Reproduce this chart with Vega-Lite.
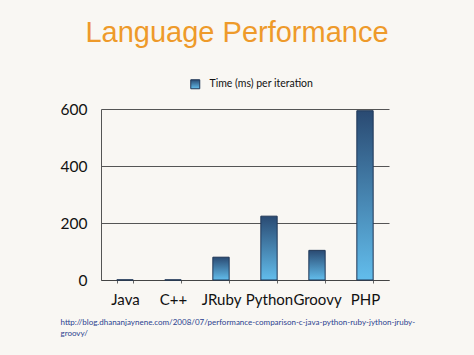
{
  "$schema": "https://vega.github.io/schema/vega-lite/v6.json",
  "autosize": "none",
  "width": 288,
  "height": 171,
  "padding": {"left": 101, "top": 109, "right": 85, "bottom": 75},
  "background": "#f9f7f3",
  "title": {
    "text": "Language Performance",
    "fontSize": 29,
    "font": "Liberation Sans",
    "fontWeight": "normal",
    "color": "#EE9A2A",
    "anchor": "middle",
    "dx": -8,
    "offset": 31
  },
  "data": {
    "values": [
      {"language": "Java", "time": 0.5, "series": "Time (ms) per iteration"},
      {"language": "C++", "time": 0.4, "series": "Time (ms) per iteration"},
      {"language": "JRuby", "time": 80, "series": "Time (ms) per iteration"},
      {"language": "Python", "time": 224, "series": "Time (ms) per iteration"},
      {"language": "Groovy", "time": 104, "series": "Time (ms) per iteration"},
      {"language": "PHP", "time": 594, "series": "Time (ms) per iteration"}
    ]
  },
  "mark": {
    "type": "bar",
    "color": {
      "gradient": "linear",
      "x1": 0, "y1": 0, "x2": 0, "y2": 1,
      "stops": [
        {"offset": 0, "color": "#2a4a72"},
        {"offset": 1, "color": "#62bdec"}
      ]
    },
    "strokeWidth": 1
  },
  "encoding": {
    "x": {
      "field": "language",
      "type": "nominal",
      "sort": null,
      "scale": {"paddingInner": 0.66, "paddingOuter": 0.33},
      "axis": {
        "title": ["http://blog.dhananjaynene.com/2008/07/performance-comparison-c-java-python-ruby-jython-jruby-", "groovy/"],
        "titleFontSize": 8,
        "titleFont": "Lato",
        "titleFontWeight": "normal",
        "titleColor": "#2b3f8f",
        "titleAnchor": "start",
        "titleAlign": "left",
        "titleX": -41,
        "titleY": 44,
        "titleBaseline": "alphabetic",
        "titleLineHeight": 11,
        "labelAngle": 0,
        "labelFont": "Lato",
        "labelFontSize": 15,
        "labelColor": "#111111",
        "labelPadding": 9,
        "labelOverlap": false,
        "tickBand": "extent",
        "ticks": true,
        "tickSize": 3,
        "tickColor": "#666666",
        "domainColor": "#444444",
        "grid": false
      }
    },
    "y": {
      "field": "time",
      "type": "quantitative",
      "scale": {"domain": [0, 600]},
      "axis": {
        "title": null,
        "values": [0, 200, 400, 600],
        "labelFont": "Lato",
        "labelFontSize": 15.5,
        "labelColor": "#111111",
        "labelPadding": 14,
        "ticks": false,
        "domainColor": "#555555",
        "gridColor": "#555555",
        "gridOpacity": 1,
        "gridWidth": 1
      }
    },
    "stroke": {
      "field": "series",
      "type": "nominal",
      "scale": {"range": ["#1f3656"]},
      "legend": {
        "title": null,
        "orient": "none",
        "legendX": 89,
        "legendY": -30,
        "padding": 0,
        "symbolType": "square",
        "symbolSize": 81,
        "symbolFillColor": "#4aa3d8",
        "symbolStrokeWidth": 1,
        "labelFont": "Lato",
        "labelFontSize": 10.5,
        "labelColor": "#111111",
        "labelOffset": 9
      }
    }
  },
  "config": {
    "view": {"stroke": null}
  }
}
